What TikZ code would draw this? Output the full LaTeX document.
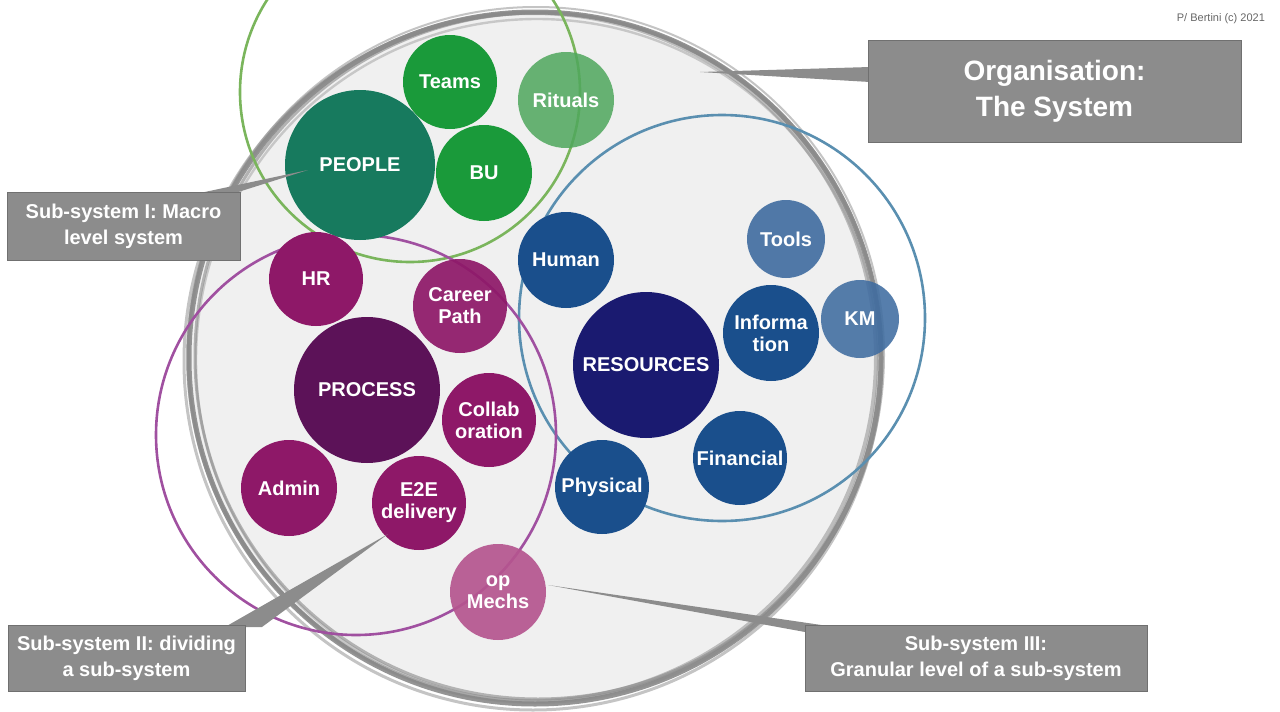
\documentclass[tikz,border=0pt]{standalone}
\usepackage{fontspec}
\setmainfont{Liberation Sans}
\definecolor{bggray}{HTML}{F0F0F0}
\definecolor{rim}{HTML}{8A8A8A}
\definecolor{gline}{HTML}{7AB55C}
\definecolor{bline}{HTML}{5A8FB0}
\definecolor{pline}{HTML}{A050A0}
\definecolor{cpeople}{HTML}{177A5E}
\definecolor{cgreen}{HTML}{1A9A3A}
\definecolor{clgreen}{HTML}{4FA75C}
\definecolor{cmag}{HTML}{8E1868}
\definecolor{cproc}{HTML}{5C1258}
\definecolor{cpink}{HTML}{B5558F}
\definecolor{cblue}{HTML}{1A4F8C}
\definecolor{clblue}{HTML}{3F6CA0}
\definecolor{cres}{HTML}{1A1A70}
\definecolor{boxg}{HTML}{8C8C8C}
\tikzset{
 bub/.style={circle,inner sep=0pt,text=white,font=\bfseries\fontsize{10}{11}\selectfont,align=center},
 callout/.style={fill=boxg,draw=boxg!80!black,line width=0.4pt,text=white,align=center,inner sep=0pt},
 ptr/.style={fill=boxg},
}
\begin{document}
\begin{tikzpicture}[x=0.5pt,y=-0.5pt]
\useasboundingbox (0,0) rectangle (1280,712);
% big system circle
\node[circle,fill=bggray,minimum size=347pt,inner sep=0pt] (sys) at (535,358) {};
\foreach \dx/\dy/\rr/\op/\w in {0/0/346/0.9/2.5,3/-2/343/0.6/1.5,-2/3/349/0.5/1.5,2/2/341/0.4/1.2,-3/-1/344/0.5/2,1/-3/348/0.5/1}
  \draw[rim,line width=\w pt,opacity=\op] (535+\dx,358+\dy) circle[radius=\rr];
% outline subsystem circles
\node[circle,draw=gline,line width=1.3pt,minimum size=170pt,inner sep=0pt] (gsys) at (410,92) {};
\node[circle,draw=bline,line width=1.3pt,minimum size=203pt,inner sep=0pt] (bsys) at (722,318) {};
\node[circle,draw=pline,line width=1.3pt,minimum size=200pt,inner sep=0pt] (psys) at (356,435) {};
% people
\node[bub,fill=cpeople,minimum size=75pt] (people) at (360,165) {PEOPLE};
\node[bub,fill=cgreen,minimum size=47pt] (teams) at (450,82) {Teams};
\node[bub,fill=clgreen,fill opacity=0.85,text opacity=1,minimum size=48pt] (rituals) at (566,100) {Rituals};
\node[bub,fill=cgreen,minimum size=48pt] (bu) at (484,173) {BU};
% process
\node[bub,fill=cmag,minimum size=47pt] (hr) at (316,279) {HR};
\node[bub,fill=cmag,fill opacity=0.92,text opacity=1,minimum size=47pt] (career) at (460,306) {Career\\Path};
\node[bub,fill=cproc,minimum size=73pt] (process) at (367,390) {PROCESS};
\node[bub,fill=cmag,minimum size=47pt] (collab) at (489,420) {Collab\\oration};
\node[bub,fill=cmag,minimum size=48pt] (admin) at (289,488) {Admin};
\node[bub,fill=cmag,minimum size=47pt] (e2e) at (419,503) {E2E\\delivery};
\node[bub,fill=cpink,fill opacity=0.92,text opacity=1,minimum size=48pt] (op) at (498,592) {op\\Mechs};
% resources
\node[bub,fill=cblue,minimum size=48pt] (human) at (566,260) {Human};
\node[bub,fill=clblue,fill opacity=0.9,text opacity=1,minimum size=39pt] (tools) at (786,239) {Tools};
\node[bub,fill=clblue,fill opacity=0.88,text opacity=1,minimum size=39pt] (km) at (860,319) {KM};
\node[bub,fill=cblue,minimum size=48pt] (info) at (771,333) {Informa\\tion};
\node[bub,fill=cres,minimum size=73pt] (res) at (646,365) {RESOURCES};
\node[bub,fill=cblue,minimum size=47pt] (fin) at (740,458) {Financial};
\node[bub,fill=cblue,minimum size=47pt] (phys) at (602,487) {Physical};
% callouts
\coordinate (p0) at (700,72);
\coordinate (p1) at (308,170);
\coordinate (p2) at (388,534);
\coordinate (p3) at (548,585);
\fill[ptr] (p0) -- (870,67) -- (870,82) -- cycle;
\fill[ptr] (p1) -- (200,193) -- (235,193) -- cycle;
\fill[ptr] (p2) -- (225,627) -- (262,627) -- cycle;
\fill[ptr] (p3) -- (835,627) -- (805,632) -- cycle;
\node[callout,minimum width=186.5pt,minimum height=51pt,font=\bfseries\fontsize{14}{18}\selectfont] (org) at (1054.5,91) {Organisation:\\The System};
\node[callout,minimum width=116.5pt,minimum height=34pt,font=\bfseries\fontsize{10}{13}\selectfont] (s1) at (123.5,226) {Sub-system I: Macro\\level system};
\node[callout,minimum width=118.5pt,minimum height=33pt,font=\bfseries\fontsize{10}{13}\selectfont] (s2) at (126.5,658) {Sub-system II: dividing\\a sub-system};
\node[callout,minimum width=171pt,minimum height=33pt,font=\bfseries\fontsize{10}{13}\selectfont] (s3) at (976,658) {Sub-system III:\\Granular level of a sub-system};
\node[text=gray!80!black,font=\fontsize{5.5}{6}\selectfont,anchor=north east] (cr) at (1272,6) {P/ Bertini (c) 2021};
\end{tikzpicture}
\end{document}
